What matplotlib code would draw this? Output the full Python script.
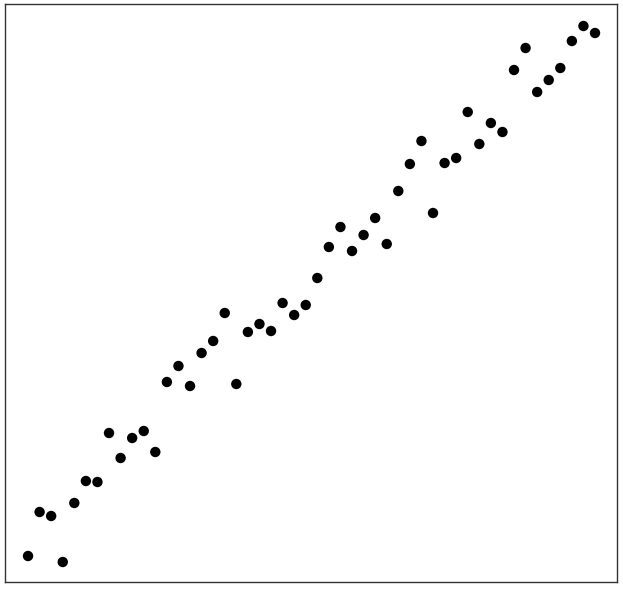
import numpy as np
import matplotlib
matplotlib.use("Agg")
import matplotlib.pyplot as plt

x_index = list(range(50))
y_values = [27, 71, 67, 21, 80, 102, 101, 150, 125, 145,
            152, 131, 201, 217, 197, 230, 242, 270, 199, 251,
            259, 252, 280, 268, 278, 305, 336, 356, 332, 348,
            365, 339, 392, 419, 442, 370, 420, 425, 471, 439,
            460, 451, 513, 535, 491, 503, 515, 542, 557, 550]

fig = plt.figure(figsize=(6.23, 5.94), dpi=100)
ax = fig.add_axes([5 / 623, 12 / 594, 612 / 623, 578 / 594])

ax.scatter(x_index, y_values, s=56, color="black", edgecolors="none")

ax.set_xlim(-1.99, 50.9)
ax.set_ylim(1, 579)
ax.set_xticks([])
ax.set_yticks([])
for spine in ax.spines.values():
    spine.set_color("#333333")
    spine.set_linewidth(1)

fig.savefig("out.png", dpi=100)
